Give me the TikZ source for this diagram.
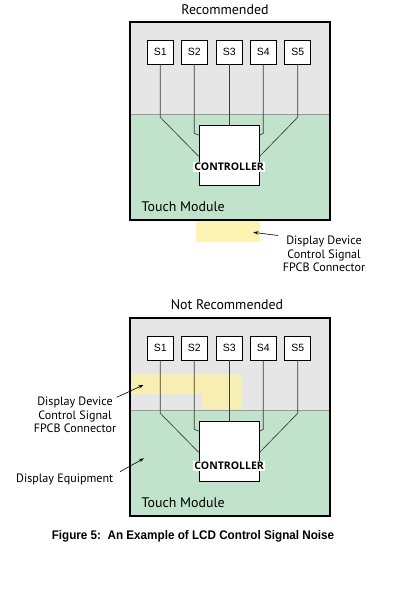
\documentclass[tikz,border=0pt]{standalone}
\usepackage{fontspec}
\setmainfont{PT Sans}
\newfontfamily\ctrlfont{Open Sans}
\newfontfamily\sfont{Liberation Sans}
\newfontfamily\capfont{Liberation Sans}
\usetikzlibrary{calc,arrows.meta}
\definecolor{panelgray}{HTML}{E6E6E6}
\definecolor{panelgreen}{HTML}{C1E2CB}
\definecolor{fpcb}{HTML}{FDF4B4}
\definecolor{fpcbb}{HTML}{F6EEB2}
\definecolor{wire}{HTML}{3A3A3A}
\tikzset{
  sensor/.style={draw=black, line width=0.8pt, fill=white, minimum width=26pt, minimum height=23.5pt, inner sep=0pt, font=\sfont\fontsize{10.5}{12}\selectfont},
  ctrlbox/.style={draw=black, line width=0.8pt, fill=white, minimum width=60.3pt, minimum height=60pt, inner sep=0pt},
  ctrllabel/.style={fill=white, inner sep=1.2pt, font=\ctrlfont\bfseries\fontsize{10.5}{12}\selectfont},
  wireline/.style={draw=wire, line width=0.65pt},
  sep/.style={draw=gray!80, line width=0.5pt},
  border/.style={draw=black, line width=2pt},
  heading/.style={inner sep=0pt, font=\fontsize{13.9}{16}\selectfont},
  module/.style={inner sep=0pt, anchor=west, font=\fontsize{13.9}{16}\selectfont},
  note/.style={inner sep=0pt, align=center, font=\fontsize{12.1}{13.7}\selectfont},
  pointer/.style={draw=black, line width=0.6pt, -{Stealth[length=5pt,width=3.5pt]}},
}
\begin{document}
\begin{tikzpicture}[x=1pt,y=-1pt]
\useasboundingbox (0,0) rectangle (400,595);
% ===== Top panel =====
\node[heading] (t-title) at (225,9.5) {Recommended};
\fill[fpcb] (196,221) rectangle (260,241.7);
\fill[panelgray] (129.5,21.7) rectangle (329.5,114);
\fill[panelgreen] (129.5,114) rectangle (329.5,220);
\draw[sep] (129.5,114) -- (329.5,114);
\node[ctrlbox] (t-ctrl) at (229.2,155) {};
\foreach \i/\x in {1/160.3,2/194.3,3/229.2,4/263.3,5/297.7}
  \node[sensor] (t-s\i) at (\x,52.3) {S\i};
\draw[wireline] (t-s1.south) -- (160.3,117.3) -- ($(t-ctrl.north west)+(0,31.7)$);
\draw[wireline] (t-s2.south) -- (194.3,133.3) -- ($(t-ctrl.north west)+(0,10.5)$);
\draw[wireline] (t-s3.south) -- (t-ctrl.north);
\draw[wireline] (t-s4.south) -- (263.3,133.3) -- ($(t-ctrl.north east)+(0,10.5)$);
\draw[wireline] (t-s5.south) -- (297.7,117.3) -- ($(t-ctrl.north east)+(0,31.7)$);
\node[ctrllabel] (t-clabel) at (229.2,167) {CONTROLLER};
\node[module] (t-module) at (141.5,207) {Touch Module};
\draw[border] (129.5,21.7) rectangle (329.5,220);
\node[note] (t-note) at (324,254) {Display Device\\Control Signal\\FPCB Connector};
\coordinate (t-from) at (278,235.5);
\coordinate (t-to) at (253.3,232.3);
\draw[pointer] (t-from) -- (t-to);
% ===== Bottom panel =====
\node[heading] (b-title) at (227,305) {Not Recommended};
\begin{scope}[yshift=-296pt]
\fill[panelgray] (129.5,21.7) rectangle (329.5,114);
\fill[fpcbb] (131,78) -- (241.7,78) -- (241.7,113.3) -- (202.3,113.3) -- (202.3,98.3) -- (131,98.3) -- cycle;
\fill[panelgreen] (129.5,114) rectangle (329.5,220);
\draw[sep] (129.5,114) -- (329.5,114);
\node[ctrlbox] (b-ctrl) at (229.2,155) {};
\foreach \i/\x in {1/160.3,2/194.3,3/229.2,4/263.3,5/297.7}
  \node[sensor] (b-s\i) at (\x,52.3) {S\i};
\draw[wireline] (b-s1.south) -- (160.3,117.3) -- ($(b-ctrl.north west)+(0,31.7)$);
\draw[wireline] (b-s2.south) -- (194.3,133.3) -- ($(b-ctrl.north west)+(0,10.5)$);
\draw[wireline] (b-s3.south) -- (b-ctrl.north);
\draw[wireline] (b-s4.south) -- (263.3,133.3) -- ($(b-ctrl.north east)+(0,10.5)$);
\draw[wireline] (b-s5.south) -- (297.7,117.3) -- ($(b-ctrl.north east)+(0,31.7)$);
\node[ctrllabel] (b-clabel) at (229.2,170) {CONTROLLER};
\node[module] (b-module) at (141.5,207) {Touch Module};
\draw[border] (129.5,21.7) rectangle (329.5,220);
\end{scope}
\node[note] (b-note) at (75,415) {Display Device\\Control Signal\\FPCB Connector};
\coordinate (b-from1) at (116.7,397.3);
\coordinate (b-to1) at (143.3,385);
\draw[pointer] (b-from1) -- (b-to1);
\node[note] (b-equip) at (64.7,479.3) {Display Equipment};
\coordinate (b-from2) at (120,471.7);
\coordinate (b-to2) at (144,458.3);
\draw[pointer] (b-from2) -- (b-to2);
% ===== Caption =====
\node[inner sep=0pt, font=\capfont\bfseries\fontsize{12.5}{14}\selectfont, xscale=0.935] (caption) at (193,536) {Figure 5:\ \ An Example of LCD Control Signal Noise};
\end{tikzpicture}
\end{document}
